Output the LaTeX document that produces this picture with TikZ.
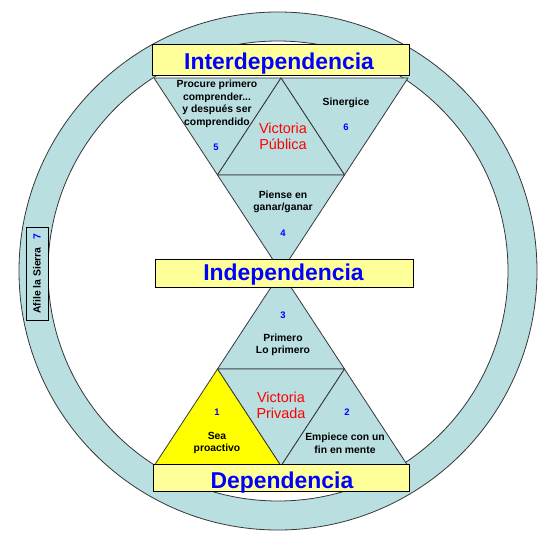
\documentclass[tikz,border=0pt]{standalone}
\usepackage{fontspec}
\setmainfont{Liberation Sans}
\definecolor{ringc}{RGB}{185,223,225}
\definecolor{boxy}{RGB}{255,255,153}
\definecolor{triy}{RGB}{255,255,0}
\definecolor{tblue}{RGB}{0,0,255}
\definecolor{vred}{RGB}{255,0,0}
\definecolor{linec}{RGB}{55,55,55}
\begin{document}
\begin{tikzpicture}[x=1bp,y=-1bp,
  ringline/.style={draw=linec, line width=0.8bp},
  tri/.style={fill=ringc, draw=linec, line width=0.8bp, line join=round},
  triyel/.style={fill=triy, draw=linec, line width=0.8bp, line join=round},
  bigbox/.style={draw=black, fill=boxy, line width=1bp, inner sep=0pt},
  title/.style={font=\bfseries\fontsize{23}{26}\selectfont, text=tblue, inner sep=0pt, anchor=base},
  lbl/.style={font=\bfseries\fontsize{10.4}{12.5}\selectfont, align=center, inner sep=0pt},
  num/.style={font=\bfseries\fontsize{9.5}{10}\selectfont, text=tblue, inner sep=0pt},
  vic/.style={font=\fontsize{14.5}{16}\selectfont, text=vred, align=center, inner sep=0pt}]
\useasboundingbox (0,0) rectangle (557,546);
\coordinate (O) at (278,271);
% ring
\fill[ringc, even odd rule] (O) circle[radius=259bp] (O) circle[radius=230bp];
\draw[ringline] (O) circle[radius=259bp];
\draw[ringline] (O) circle[radius=230bp];
% triangle points
\coordinate (T0) at (154,78);
\coordinate (T1) at (281,78);
\coordinate (T2) at (408,78);
\coordinate (M1) at (217.5,175);
\coordinate (M2) at (344.5,175);
\coordinate (C)  at (281,272);
\coordinate (D1) at (217.5,369);
\coordinate (D2) at (344.5,369);
\coordinate (B0) at (154,466);
\coordinate (B1) at (281,466);
\coordinate (B2) at (408,466);
% triangles
\filldraw[tri] (T0) -- (T1) -- (M1) -- cycle;
\filldraw[tri] (T1) -- (T2) -- (M2) -- cycle;
\filldraw[tri] (T1) -- (M2) -- (M1) -- cycle;
\filldraw[tri] (M1) -- (M2) -- (C) -- cycle;
\filldraw[tri] (C) -- (D2) -- (D1) -- cycle;
\filldraw[tri] (D1) -- (D2) -- (B1) -- cycle;
\filldraw[tri] (D2) -- (B2) -- (B1) -- cycle;
\filldraw[triyel] (D1) -- (B1) -- (B0) -- cycle;
% boxes
\node[bigbox, minimum width=257bp, minimum height=31bp] (interbox) at (280.5,60.5) {};
\node[title] (inter) at (279,69.5) {Interdependencia};
\node[bigbox, minimum width=258bp, minimum height=28bp] (indbox) at (284,273) {};
\node[title] (ind) at (283.5,280.3) {Independencia};
\node[bigbox, minimum width=256bp, minimum height=27bp] (depbox) at (281.5,477.5) {};
\node[title] (dep) at (282,488.3) {Dependencia};
% labels
\node[lbl] (l5) at (217,104) {Procure primero\\comprender...\\y después ser\\comprendido};
\node[num] (n5) at (216,147) {5};
\node[lbl] (l6) at (346,103) {Sinergice};
\node[num] (n6) at (346,127) {6};
\node[vic] (vp) at (283,136) {Victoria\\Pública};
\node[lbl] (l4) at (283,202) {Piense en\\ganar/ganar};
\node[num] (n4) at (283,233) {4};
\node[num] (n3) at (283,315) {3};
\node[lbl] (l3) at (283,345) {Primero\\Lo primero};
\node[vic] (vpr) at (281,405.5) {Victoria\\Privada};
\node[num] (n1) at (217,412) {1};
\node[lbl] (l1) at (217,443) {Sea\\proactivo};
\node[num] (n2) at (347,412) {2};
\node[lbl] (l2) at (345,443.5) {Empiece con un\\fin en mente};
% side box
\node[draw=black, fill=ringc, line width=0.8bp, rotate=90, minimum width=93bp, minimum height=22bp, inner sep=0pt,
      font=\bfseries\fontsize{10.4}{12}\selectfont] (afile) at (37,273.5) {Afile la Sierra\hspace{8bp}{\color{tblue}7}};
\end{tikzpicture}
\end{document}
